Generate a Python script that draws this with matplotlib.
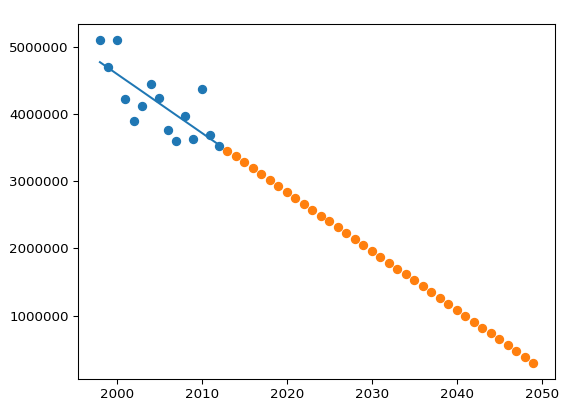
import matplotlib
matplotlib.use("Agg")
import matplotlib.pyplot as plt

# observed values (blue points)
years_obs = list(range(1998, 2013))
values_obs = [5100000, 4705000, 5100000, 4220000, 3897000, 4120000, 4456000,
              4240000, 3768000, 3608000, 3970000, 3628000, 4381000, 3683000,
              3528000]

# fitted trend line over the observed years
fit_values = [4775000, 4687000, 4599000, 4511000, 4424000, 4336000, 4248000,
              4160000, 4072000, 3984000, 3897000, 3809000, 3721000, 3633000,
              3545000]

# predicted values (orange points)
years_pred = list(range(2013, 2050))
values_pred = [3457000, 3370000, 3282000, 3194000, 3106000, 3018000, 2930000,
               2843000, 2755000, 2667000, 2579000, 2491000, 2403000, 2316000,
               2228000, 2140000, 2052000, 1964000, 1876000, 1789000, 1701000,
               1613000, 1525000, 1437000, 1350000, 1262000, 1174000, 1086000,
               998000, 910000, 823000, 735000, 647000, 559000, 471000, 383000,
               296000]

fig = plt.figure(figsize=(584 / 96, 417 / 96), dpi=96)
ax = fig.add_axes([0.134, 0.091, 0.816, 0.851])

ax.scatter(years_obs, values_obs, color="#1f77b4")
ax.plot(years_obs, fit_values, color="#1f77b4", linewidth=1.5)
ax.scatter(years_pred, values_pred, color="#ff7f0e")

ax.ticklabel_format(axis="y", style="plain", useOffset=False)
ax.set_xticks([2000, 2010, 2020, 2030, 2040, 2050])
ax.set_yticks([1000000, 2000000, 3000000, 4000000, 5000000])

fig.savefig("out.png", dpi=96)
